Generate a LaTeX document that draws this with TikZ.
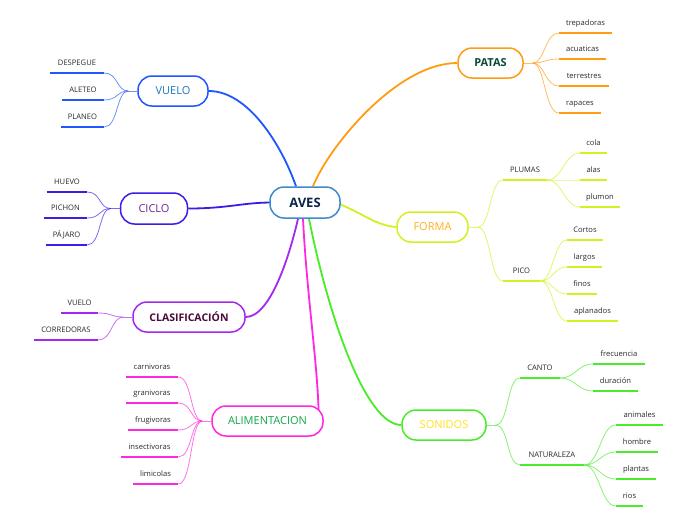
\documentclass[tikz,border=0pt]{standalone}
\usepackage{fontspec}
\setmainfont{Open Sans}
\usetikzlibrary{backgrounds}
\definecolor{cAvesB}{HTML}{3E8ACB}
\definecolor{cAvesT}{HTML}{0B2548}
\definecolor{cVuelo}{HTML}{1F56FF}
\definecolor{cVueloT}{HTML}{1A78C0}
\definecolor{cCiclo}{HTML}{3A1EE8}
\definecolor{cCicloT}{HTML}{6A2A9A}
\definecolor{cClas}{HTML}{A428F0}
\definecolor{cClasT}{HTML}{4A0A3A}
\definecolor{cAlim}{HTML}{FF28E0}
\definecolor{cAlimT}{HTML}{10A848}
\definecolor{cPatas}{HTML}{FF9C10}
\definecolor{cPatasT}{HTML}{0A4A38}
\definecolor{cForma}{HTML}{D4F022}
\definecolor{cFormaT}{HTML}{FFB020}
\definecolor{cSon}{HTML}{48EC28}
\definecolor{cSonT}{HTML}{FFE020}
\definecolor{leafc}{HTML}{2A2A2A}
\begin{document}
\begin{tikzpicture}[x=1pt,y=-1pt,
  box/.style={draw, fill=white, line width=1.5pt, rounded corners=14pt,
    minimum height=30pt, inner sep=0pt, font=\fontsize{11}{13}\selectfont},
  leaf/.style={anchor=south, inner xsep=0pt, inner ysep=0pt, text height=6pt,
    text depth=7pt, font=\fontsize{7.6}{9}\selectfont, text=leafc},
  ul/.style={line width=2pt},
  sub/.style={line width=0.8pt, draw opacity=0.65},
  mainc/.style={line width=1.8pt}]
\useasboundingbox (0,0) rectangle (696,520);

% ---- main boxes
\node[box, draw=cAvesB, text=cAvesT, minimum width=70pt, minimum height=31pt, font=\fontsize{13}{15}\selectfont\bfseries] (aves) at (305,202.5) {AVES};
\node[box, draw=cVuelo, text=cVueloT, minimum width=70pt] (vuelo) at (173,91) {VUELO};
\node[box, draw=cCiclo, text=cCicloT, minimum width=67pt, minimum height=31pt] (ciclo) at (154,208.5) {CICLO};
\node[box, draw=cClas, text=cClasT, minimum width=112pt, font=\fontsize{10.5}{13}\selectfont\bfseries] (clas) at (189,317) {CLASIFICACIÓN};
\node[box, draw=cAlim, text=cAlimT, minimum width=111pt] (alim) at (267.5,421) {ALIMENTACION};
\node[box, draw=cPatas, text=cPatasT, minimum width=65pt, font=\fontsize{11}{13}\selectfont\bfseries] (patas) at (490.5,63) {PATAS};
\node[box, draw=cForma, text=cFormaT, minimum width=71pt] (forma) at (432.5,227) {FORMA};
\node[box, draw=cSon, text=cSonT, minimum width=84pt] (sonidos) at (444,425) {SONIDOS};

% ---- leaves
\node[leaf, minimum width=54pt] (despegue) at (77,73) {DESPEGUE};
\node[leaf, minimum width=42pt] (aleteo) at (83,100) {ALETEO};
\node[leaf, minimum width=43pt] (planeo) at (82.5,127) {PLANEO};

\node[leaf, minimum width=40pt] (huevo) at (67,192) {HUEVO};
\node[leaf, minimum width=43pt] (pichon) at (65.5,218) {PICHON};
\node[leaf, minimum width=41pt] (pajaro) at (66.5,245) {PÁJARO};

\node[leaf, minimum width=37pt] (vuelob) at (79.5,313) {VUELO};
\node[leaf, minimum width=64pt] (corredoras) at (66,340) {CORREDORAS};

\node[leaf, minimum width=52pt] (carnivoras) at (152,377) {carnivoras};
\node[leaf, minimum width=52pt] (granivoras) at (152,403) {granivoras};
\node[leaf, minimum width=50pt] (frugivoras) at (153,430) {frugivoras};
\node[leaf, minimum width=57pt] (insectivoras) at (149.5,457) {insectivoras};
\node[leaf, minimum width=45pt] (limicolas) at (155.5,484) {limicolas};

\node[leaf, minimum width=53pt] (trepadoras) at (585.5,33) {trepadoras};
\node[leaf, minimum width=47pt] (acuaticas) at (582.5,59) {acuaticas};
\node[leaf, minimum width=50pt] (terrestres) at (584,86) {terrestres};
\node[leaf, minimum width=42pt] (rapaces) at (580,113) {rapaces};

\node[leaf, minimum width=44pt] (plumas) at (525,180) {PLUMAS};
\node[leaf, minimum width=37pt] (pico) at (521.5,281) {PICO};
\node[leaf, minimum width=27pt] (cola) at (593.5,153) {cola};
\node[leaf, minimum width=27pt] (alas) at (593.5,180) {alas};
\node[leaf, minimum width=40pt] (plumon) at (600,207) {plumon};
\node[leaf, minimum width=36pt] (cortos) at (585,240) {Cortos};
\node[leaf, minimum width=35pt] (largos) at (584.5,267) {largos};
\node[leaf, minimum width=30pt] (finos) at (582,294) {finos};
\node[leaf, minimum width=51pt] (aplanados) at (592.5,321) {aplanados};

\node[leaf, minimum width=40pt] (canto) at (540,378) {CANTO};
\node[leaf, minimum width=64pt] (naturaleza) at (552,465) {NATURALEZA};
\node[leaf, minimum width=52pt] (frecuencia) at (619,364) {frecuencia};
\node[leaf, minimum width=45pt] (duracion) at (615.5,391) {duración};
\node[leaf, minimum width=47pt] (animales) at (639.5,425) {animales};
\node[leaf, minimum width=42pt] (hombre) at (637,452) {hombre};
\node[leaf, minimum width=40pt] (plantas) at (636,479) {plantas};
\node[leaf, minimum width=27pt] (rios) at (629.5,506) {rios};

% ---- underlines
\foreach \n/\c in {despegue/cVuelo,aleteo/cVuelo,planeo/cVuelo,
  huevo/cCiclo,pichon/cCiclo,pajaro/cCiclo,vuelob/cClas,corredoras/cClas,
  carnivoras/cAlim,granivoras/cAlim,frugivoras/cAlim,insectivoras/cAlim,limicolas/cAlim,
  trepadoras/cPatas,acuaticas/cPatas,terrestres/cPatas,rapaces/cPatas,
  plumas/cForma,pico/cForma,cola/cForma,alas/cForma,plumon/cForma,
  cortos/cForma,largos/cForma,finos/cForma,aplanados/cForma,
  canto/cSon,naturaleza/cSon,frecuencia/cSon,duracion/cSon,
  animales/cSon,hombre/cSon,plantas/cSon,rios/cSon}
  \draw[ul,\c] (\n.south west) -- (\n.south east);

% ---- join points
\coordinate (vj) at ([xshift=-9pt]vuelo.west);
\coordinate (cj) at ([xshift=-9pt]ciclo.west);
\coordinate (lj) at ([xshift=-9pt]clas.west);
\coordinate (aj) at ([xshift=-9pt]alim.west);
\coordinate (pj) at ([xshift=9pt]patas.east);
\coordinate (fj) at ([xshift=9pt]forma.east);
\coordinate (sj) at ([xshift=9pt]sonidos.east);

\begin{pgfonlayer}{background}
\fill[white] (0,0) rectangle (696,520);
% main connectors
\draw[mainc,cVuelo] (vuelo.east) .. controls +(40,0) and +(-14,-40) .. ([xshift=-9pt]aves.north);
\draw[mainc,cPatas] ([xshift=8pt]aves.north) .. controls +(16,-40) and +(-60,0) .. (patas.west);
\draw[mainc,cCiclo] (ciclo.east) .. controls +(40,0) and +(-30,0) .. ([xshift=3pt]aves.west);
\draw[mainc,cClas] (clas.east) .. controls +(25,0) and +(-8,35) .. ([xshift=-7pt]aves.south);
\draw[mainc,cAlim] ([xshift=-2pt]aves.south) .. controls +(4,80) and +(0,-50) .. ([xshift=-5pt]alim.east);
\draw[mainc,cSon] ([xshift=4pt]aves.south) .. controls +(20,100) and +(-35,0) .. (sonidos.west);
\draw[mainc,cForma] ([xshift=-5pt]aves.east) .. controls +(30,12) and +(-22,-2) .. (forma.west);

% sub connectors (left)
\foreach \n in {despegue,aleteo,planeo}
  \draw[sub,cVuelo] (\n.south east) .. controls +(14,0) and +(-12,0) .. (vj);
\draw[sub,cVuelo] (vj) -- (vuelo.west);
\foreach \n in {huevo,pichon,pajaro}
  \draw[sub,cCiclo] (\n.south east) .. controls +(14,0) and +(-12,0) .. (cj);
\draw[sub,cCiclo] (cj) -- (ciclo.west);
\foreach \n in {vuelob,corredoras}
  \draw[sub,cClas] (\n.south east) .. controls +(14,0) and +(-12,0) .. (lj);
\draw[sub,cClas] (lj) -- (clas.west);
\foreach \n in {carnivoras,granivoras,frugivoras,insectivoras,limicolas}
  \draw[sub,cAlim] (\n.south east) .. controls +(14,0) and +(-12,0) .. (aj);
\draw[sub,cAlim] (aj) -- (alim.west);

% sub connectors (right)
\draw[sub,cPatas] (patas.east) -- (pj);
\foreach \n in {trepadoras,acuaticas,terrestres,rapaces}
  \draw[sub,cPatas] (pj) .. controls +(12,0) and +(-14,0) .. (\n.south west);
\draw[sub,cForma] (forma.east) -- (fj);
\foreach \n in {plumas,pico}
  \draw[sub,cForma] (fj) .. controls +(13,0) and +(-13,0) .. (\n.south west);
\foreach \n in {cola,alas,plumon}
  \draw[sub,cForma] (plumas.south east) .. controls +(15,0) and +(-15,0) .. (\n.south west);
\foreach \n in {cortos,largos,finos,aplanados}
  \draw[sub,cForma] (pico.south east) .. controls +(13,0) and +(-13,0) .. (\n.south west);
\draw[sub,cSon] (sonidos.east) -- (sj);
\foreach \n in {canto,naturaleza}
  \draw[sub,cSon] (sj) .. controls +(13,0) and +(-13,0) .. (\n.south west);
\foreach \n in {frecuencia,duracion}
  \draw[sub,cSon] (canto.south east) .. controls +(15,0) and +(-15,0) .. (\n.south west);
\foreach \n in {animales,hombre,plantas,rios}
  \draw[sub,cSon] (naturaleza.south east) .. controls +(15,0) and +(-15,0) .. (\n.south west);
\end{pgfonlayer}
\end{tikzpicture}
\end{document}
